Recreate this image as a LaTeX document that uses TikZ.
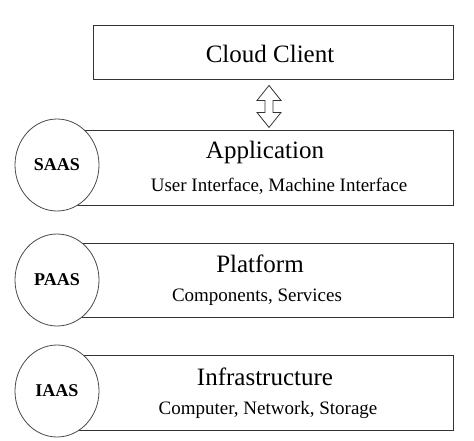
\documentclass[tikz,border=0pt]{standalone}
\usepackage{fontspec}
\setmainfont{Liberation Serif}
\usetikzlibrary{shapes.geometric}
\begin{document}
\begin{tikzpicture}[x=1pt,y=-1pt,
  layer/.style={draw=black!80, line width=0.9pt, fill=white},
  tag/.style={draw=black!70, line width=0.8pt, fill=white, ellipse, minimum width=84pt, minimum height=92pt, inner sep=0pt, font=\bfseries\fontsize{18}{20}\selectfont},
  title/.style={font=\fontsize{25}{28}\selectfont, inner sep=0pt},
  sub/.style={font=\fontsize{19}{22}\selectfont, inner sep=0pt},
  dblarrow/.style={draw=black!80, line width=0.8pt, fill=white, line join=miter}
]
\useasboundingbox (0,0) rectangle (474,440);
% Cloud client
\node[layer, minimum width=360pt, minimum height=54pt, inner sep=0pt] (cc) at (273,52) {};
\node[title] (cct) at (270,54) {Cloud Client};
% layers
\node[layer, minimum width=396pt, minimum height=75pt, inner sep=0pt] (app) at (255,167.5) {};
\node[layer, minimum width=396pt, minimum height=74pt, inner sep=0pt] (plat) at (255,280) {};
\node[layer, minimum width=396pt, minimum height=75pt, inner sep=0pt] (infra) at (255,392.5) {};
% texts
\node[title] (appt) at (265,152) {Application};
\node[sub] (apps) at (279,186) {User Interface, Machine Interface};
\node[title] (platt) at (260,264) {Platform};
\node[sub] (plats) at (257,297) {Components, Services};
\node[title] (inft) at (265,377) {Infrastructure};
\node[sub] (infs) at (268,410) {Computer, Network, Storage};
% tags
\node[tag] (saas) at (57,165) {SAAS};
\node[tag] (paas) at (57,280) {PAAS};
\node[tag] (iaas) at (57,391) {IAAS};
% double arrow between client and application
\coordinate (ax) at (269,0);
\draw[dblarrow] (cc.south -| ax) ++(0,6) -- ++(12,15) -- ++(-8,0) -- ++(0,12) -- ++(8,0)
  -- ++(-12,15) -- ++(-12,-15) -- ++(8,0) -- ++(0,-12) -- ++(-8,0) -- cycle;
\end{tikzpicture}
\end{document}
